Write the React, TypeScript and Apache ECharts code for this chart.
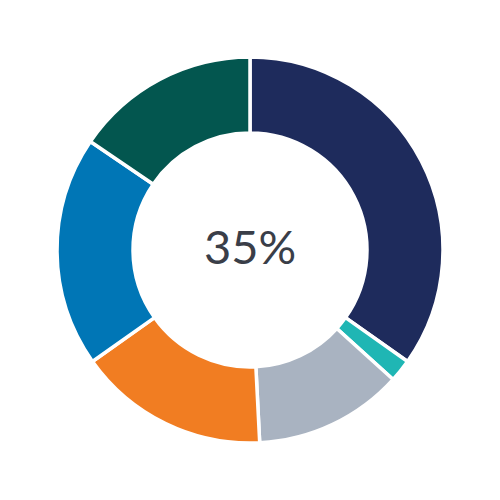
import { useEffect, useRef } from 'react';
import * as echarts from 'echarts';

const segmentNames = ['Navy', 'Teal', 'Gray', 'Orange', 'Blue', 'Green'];
const segmentValues = [34.8, 1.9, 12.5, 16, 19.3, 15.5];
const segmentColors = ['#1e2b5c', '#1fb6b4', '#a9b3c1', '#f17d22', '#0076b6', '#03564f'];
const centerLabel = '35%';

export default function App() {
  const ref = useRef<HTMLDivElement | null>(null);

  useEffect(() => {
    if (!ref.current) return;
    const chart = echarts.init(ref.current, undefined, { renderer: 'svg' });

    chart.setOption({
      animation: false,
      graphic: [
        {
          type: 'text',
          x: 250,
          y: 246,
          style: {
            text: centerLabel,
            fill: '#3a3e48',
            fontSize: 47,
            fontWeight: 400,
            fontFamily: 'Lato',
            align: 'center',
            verticalAlign: 'middle',
          },
        },
      ],
      series: [
        {
          type: 'pie',
          center: [250, 250],
          radius: [117, 193],
          startAngle: 90,
          clockwise: true,
          label: { show: false },
          labelLine: { show: false },
          emphasis: { disabled: true },
          itemStyle: { borderColor: '#fff', borderWidth: 3.5 },
          data: segmentNames.map((name, i) => ({
            name,
            value: segmentValues[i],
            itemStyle: { color: segmentColors[i] },
          })),
        },
      ],
    });

    return () => chart.dispose();
  }, []);

  return <div ref={ref} style={{ width: 500, height: 500, margin: -8 }} />;
}
